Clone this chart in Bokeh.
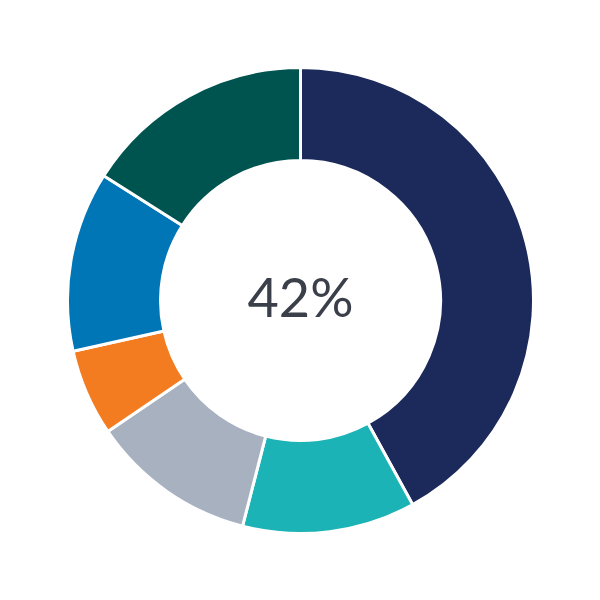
from bokeh.plotting import figure
from bokeh.models import ColumnDataSource
from bokeh.core.properties import value
from bokeh.embed import file_html
from bokeh.resources import INLINE
import math

categories = ["A", "B", "C", "D", "E", "F"]
shares = [42, 12, 11.5, 6, 12.5, 16]
colors = ["#1b2a5b", "#1bb3b5", "#a7b1c0", "#f47c20", "#0076b6", "#005450"]
center_label = "42%"

total = sum(shares)
starts, ends = [], []
cum = 0.0
for s in shares:
    a0 = math.pi / 2 - (cum + s) / total * 2 * math.pi
    a1 = math.pi / 2 - cum / total * 2 * math.pi
    starts.append(a0)
    ends.append(a1)
    cum += s

src = ColumnDataSource(dict(cat=categories, start=starts, end=ends, color=colors))

p = figure(width=584, height=584, x_range=(-300, 284), y_range=(-284, 300),
           output_backend="svg", toolbar_location=None, min_border=0)
p.axis.visible = False
p.grid.visible = False
p.outline_line_color = None
p.background_fill_color = "white"

p.annular_wedge(x=0, y=0, inner_radius=140, outer_radius=233,
                start_angle="start", end_angle="end", fill_color="color",
                line_color="white", line_width=3, source=src)

p.text(x=[0], y=[4], text=[center_label], text_align="center", text_baseline="middle",
       text_font=value("Lato"), text_font_size="54px", text_color="#3a3f4a")

open("out.html", "w").write(file_html(p, INLINE))
